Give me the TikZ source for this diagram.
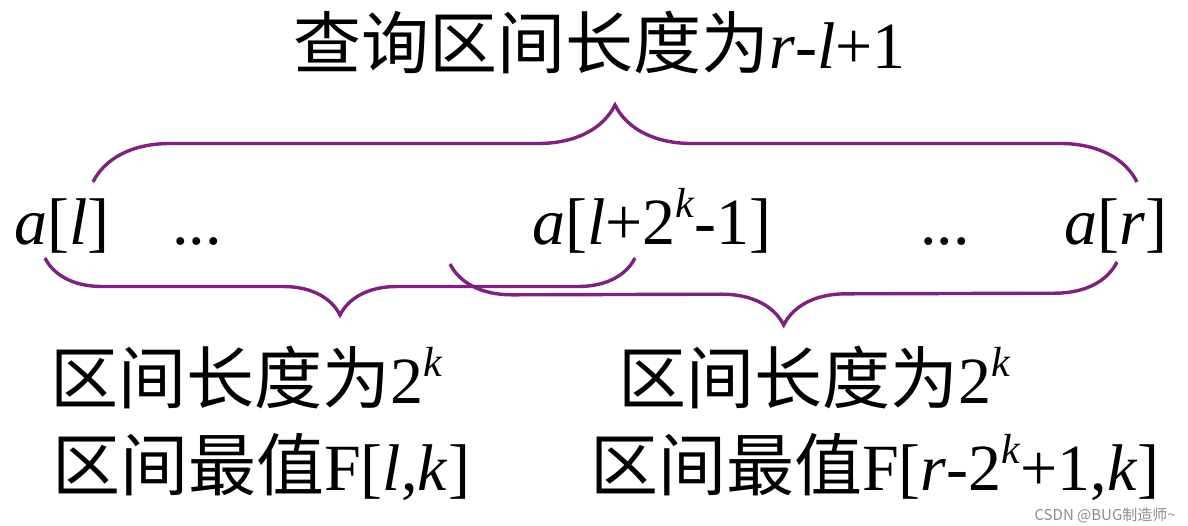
\documentclass[tikz,border=0pt]{standalone}
\usepackage{fontspec}
\setmainfont{Liberation Serif}
\newfontfamily\cjk[Scale=1.03]{Noto Sans CJK SC}
\newfontfamily\wmfont{Noto Sans CJK SC}
\usepackage{tikz}
\usetikzlibrary{decorations.pathreplacing}
\definecolor{bracepurple}{RGB}{125,35,125}
\newcommand{\supk}{\raisebox{0.4em}{\fontsize{42}{42}\selectfont\itshape k}}

\begin{document}
\begin{tikzpicture}[x=1pt, y=-1pt, semithick,
    txt/.style={inner sep=0pt, font=\fontsize{66}{70}\selectfont, anchor=base west},
    brc/.style={draw=bracepurple, line width=3.4pt, decorate}]

    \useasboundingbox (0,0) rectangle (1188,525);

    % title over the whole query range
    \node[txt]                 (title)  at (293,68)   {{\cjk 查询区间长度为}\textit{r}-\textit{l}+1};

    % the array row
    \node[txt]                 (al)     at (14,244)   {\textit{a}[\textit{l}]};
    \node[txt]                 (dotsl)  at (172,244)  {...};
    \node[txt]                 (amid)   at (532,244)  {\textit{a}[\textit{l}+2\supk-1]};
    \node[txt]                 (dotsr)  at (920,244)  {...};
    \node[txt, anchor=base east] (ar)   at (1168,244) {\textit{a}[\textit{r}]};

    % ends of the three braces
    \coordinate (topL) at (93,182);
    \coordinate (topR) at (1137,182);
    \coordinate (lowL) at (45,258);
    \coordinate (lowR) at (635,258);
    \coordinate (uppL) at (450,264);
    \coordinate (uppR) at (1117,262);

    \draw[brc, decoration={brace, amplitude=77pt, aspect=0.5}]          (topL) -- (topR);
    \draw[brc, decoration={brace, mirror, amplitude=57pt, aspect=0.5}]  (lowL) -- (lowR);
    \draw[brc, decoration={brace, mirror, amplitude=62pt, aspect=0.5}]  (uppL) -- (uppR);

    % labels under the two halves
    \node[txt]                 (lenL)   at (50,403)   {{\cjk 区间长度为}2\supk};
    \node[txt]                 (maxL)   at (52,490)   {{\cjk 区间最值}F[\textit{l},\textit{k}]};
    \node[txt]                 (lenR)   at (618,403)  {{\cjk 区间长度为}2\supk};
    \node[txt]                 (maxR)   at (590,490)  {{\cjk 区间最值}F[\textit{r}-2\supk+1,\textit{k}]};

    \node[inner sep=0pt, anchor=base east, text=black!45, font=\wmfont\fontsize{15}{16}\selectfont]
                               (mark)   at (1176,520) {CSDN @BUG制造师\textasciitilde};

\end{tikzpicture}
\end{document}
